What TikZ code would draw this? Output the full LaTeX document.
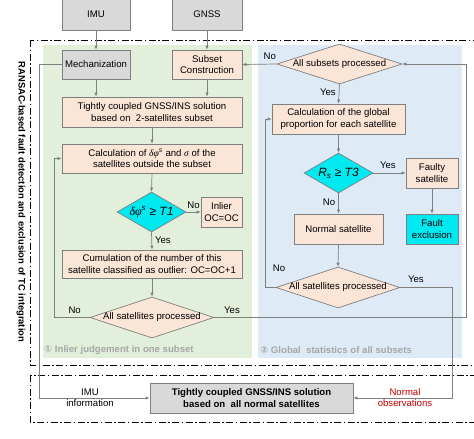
\documentclass[tikz,border=0pt]{standalone}
\usepackage{fontspec}
\setmainfont{Liberation Sans}
\newfontfamily\grk{Liberation Serif}
\newfontfamily\djv{DejaVu Sans}
\usetikzlibrary{shapes.geometric,arrows.meta}
\definecolor{greenbg}{HTML}{E2EFDA}
\definecolor{bluebg}{HTML}{DEEBF7}
\definecolor{peach}{HTML}{FBE5D6}
\definecolor{grayfill}{HTML}{D9D9D9}
\definecolor{cyanfill}{HTML}{00E8F0}
\definecolor{linegray}{HTML}{7F7F7F}
\definecolor{labelgray}{HTML}{A6A6A6}
\definecolor{redtext}{HTML}{C00000}
\newcommand{\msz}{\fontsize{9.6}{11.5}\selectfont}
\newcommand{\bsz}{\fontsize{12}{14}\selectfont}
\begin{document}
\begin{tikzpicture}[x=1pt,y=-1pt,
  box/.style={draw=linegray, line width=0.7pt, fill=peach, align=center, inner sep=1pt, font=\msz},
  gbox/.style={box, fill=grayfill},
  cbox/.style={box, fill=cyanfill},
  dia/.style={draw=linegray, line width=0.7pt, shape=diamond, inner sep=0pt, font=\msz, fill=peach},
  cdia/.style={dia, fill=cyanfill, font=\bsz},
  arr/.style={draw=linegray, line width=0.7pt, -{Latex[length=4pt,width=3.5pt]}},
  lab/.style={font=\msz, inner sep=0pt},
  ddash/.style={draw=black, line width=0.7pt, dash pattern=on 7pt off 2.5pt on 1.5pt off 2.5pt},
  grouplab/.style={font=\bfseries\msz, text=labelgray, inner sep=0pt, anchor=west},
]
\useasboundingbox (0,0) rectangle (474,439);
\clip (0,0) rectangle (474,439);
% regions
\fill[greenbg] (43,45) rectangle (252,358);
\fill[bluebg] (258,45) rectangle (462,358);
\draw[ddash] (30,40) rectangle (490,365);
\draw[ddash] (30,375) rectangle (490,422);
% title
\node[rotate=-90, font=\bfseries\fontsize{9.4}{11}\selectfont, inner sep=0pt] (title) at (21,202) {RANSAC-based fault detection and exclusion of TC integration};
% top inputs
\node[gbox, minimum width=68, minimum height=32] (imu) at (96,14) {IMU};
\node[gbox, minimum width=70, minimum height=32] (gnss) at (207,14) {GNSS};
% left column
\node[gbox, minimum width=68, minimum height=29] (mech) at (96,64.5) {Mechanization};
\node[box, minimum width=70, minimum height=29] (subset) at (207,64.5) {Subset\\Construction};
\node[box, minimum width=180, minimum height=30] (tc) at (152,112) {Tightly coupled GNSS/INS solution\\based on \ 2-satellites subset};
\node[box, minimum width=180, minimum height=29] (calc) at (152,158.5) {Calculation of {\grk\itshape δφ}\textsuperscript{\itshape s} and {\grk\itshape σ} of the\\satellites outside the subset};
\node[cdia, minimum width=69, minimum height=40] (d1) at (151.5,212) {\makebox[0pt]{{\grk\itshape δφ}\textsuperscript{\itshape s} ≥ \textit{T1}}};
\node[box, minimum width=41, minimum height=30, inner sep=0pt] (inl) at (221.5,212) {Inlier\\OC=OC};
\node[box, minimum width=180, minimum height=28] (cum) at (152,264) {Cumulation of the number of this\\satellite classified as outlier: OC=OC+1};
\node[dia, minimum width=124, minimum height=41] (d2) at (152,317.5) {\makebox[0pt]{All satellites processed}};
\node[grouplab] (g1) at (44,350) {{\djv ①} Inlier judgement in one subset};
% right column
\node[dia, minimum width=125, minimum height=40] (d3) at (339.5,64) {\makebox[0pt]{All subsets processed}};
\node[box, minimum width=133, minimum height=30] (glob) at (338.5,119) {Calculation of the global\\proportion for each satellite};
\node[cdia, minimum width=69, minimum height=40] (d4) at (338.5,173) {\makebox[0pt]{\textit{R}\textsubscript{\itshape s} ≥ \textit{T3}}};
\node[box, minimum width=52, minimum height=30] (faulty) at (432,173) {Faulty\\satellite};
\node[cbox, minimum width=52, minimum height=30] (fex) at (432,229) {Fault\\exclusion};
\node[box, minimum width=89, minimum height=30] (norm) at (338.5,229) {Normal satellite};
\node[dia, minimum width=124, minimum height=41] (d5) at (338,287.5) {\makebox[0pt]{All satellites processed}};
\node[grouplab] (g2) at (260,350) {{\djv ②} Global \ statistics of all subsets};
% final
\node[gbox, minimum width=203, minimum height=30, font=\bfseries\msz] (final) at (251.5,398) {Tightly coupled GNSS/INS solution\\based on \ all normal satellites};
% helper coordinates
\coordinate (lx) at (54,0);
\coordinate (mx) at (39,0);
\coordinate (rx) at (466,0);
\coordinate (rx2) at (452,0);
\coordinate (lx2) at (265,0);
% connectors
\draw[arr] (imu.south) -- (mech.north);
\draw[arr] (gnss.south) -- (subset.north);
\draw[arr] (mech.south) -- (mech.south |- tc.north);
\draw[arr] (subset.south) -- (subset.south |- tc.north);
\draw[arr] (tc.south) -- (calc.north);
\draw[arr] (calc.south) -- (d1.north);
\draw[arr] (d1.east) -- node[lab, above=3pt] {No} (inl.west);
\draw[arr] (d1.south) -- node[lab, right=3pt, pos=0.45] {Yes} (cum.north);
\draw[arr] (cum.south) -- (d2.north);
\draw[arr] (d2.west) -- node[lab, above=4pt, pos=0.42] {No} (d2.west -| lx) |- (calc.west);
\draw[arr] (d2.east) -- node[lab, above=4pt, pos=0.07] {Yes} (d2.east -| rx) |- (d3.east);
\draw[arr] (d3.west) -- node[lab, above=4pt, pos=0.2] {No} (subset.east);
\draw[arr] (d3.south) -- node[lab, left=3pt, pos=0.4] {Yes} (glob.north);
\draw[arr] (glob.south) -- (d4.north);
\draw[arr] (d4.east) -- node[lab, above=4pt, pos=0.45] {Yes} (faulty.west);
\draw[arr] (faulty.south) -- (fex.north);
\draw[arr] (d4.south) -- node[lab, left=3pt, pos=0.45] {No} (norm.north);
\draw[arr] (norm.south) -- (d5.north);
\draw[arr] (d5.west) -- (d5.west -| lx2) |- (glob.west);
\node[lab] (no5) at (279,268) {No};
\draw[arr] (d5.east) -- node[lab, above=5pt, pos=0.3] {Yes} (d5.east -| rx2) |- (final.east);
\draw[arr] (mech.west) -- (mech.west -| mx) |- (final.west);
\node[lab, anchor=south] (imuinfo1) at (90,396) {IMU};
\node[lab, anchor=north] (imuinfo2) at (90,399.5) {information};
\node[lab, anchor=south, text=redtext] (nobs1) at (405,395.5) {Normal};
\node[lab, anchor=north, text=redtext] (nobs2) at (405,399) {observations};
\end{tikzpicture}
\end{document}
